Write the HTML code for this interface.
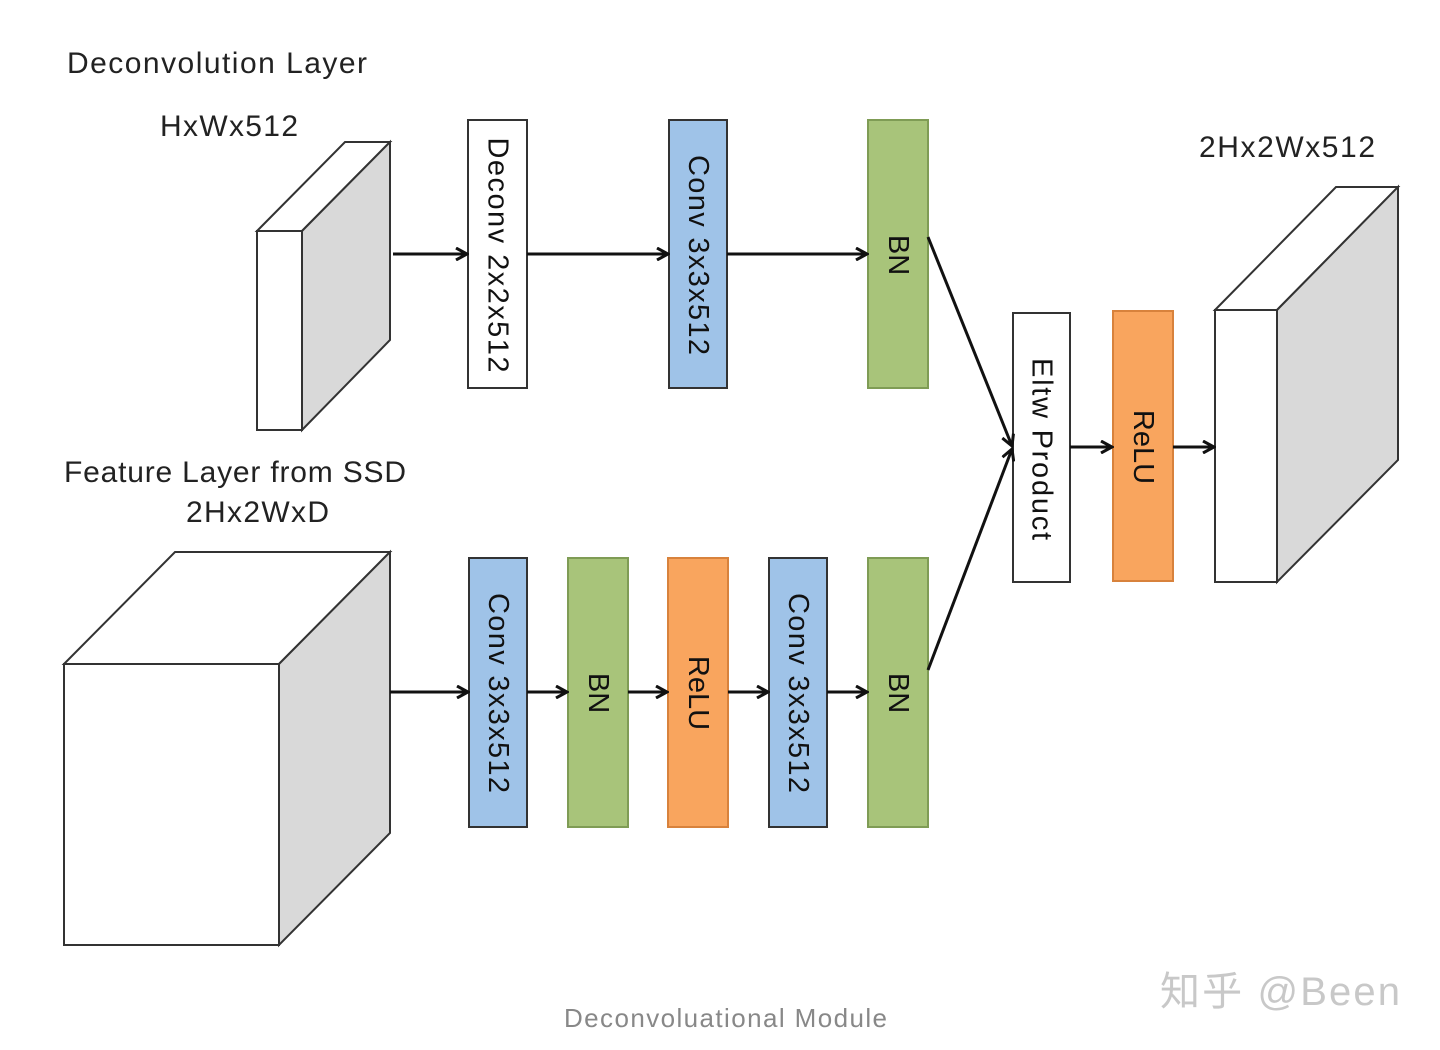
<!DOCTYPE html>
<html><head><meta charset="utf-8"><style>html,body{margin:0;padding:0;background:#fff;}svg{display:block}</style></head>
<body>
<svg width="1440" height="1050" viewBox="0 0 1440 1050" xmlns="http://www.w3.org/2000/svg" font-family="Liberation Sans, sans-serif">
<defs>
<marker id="ah" markerWidth="14" markerHeight="14" refX="12" refY="7" orient="auto" markerUnits="userSpaceOnUse">
<path d="M1,1 L12,7 L1,13" fill="none" stroke="#111" stroke-width="3"/>
</marker>
</defs>
<g fill="#222" font-size="30">
<text x="67" y="73" textLength="300">Deconvolution Layer</text>
<text x="160" y="136" textLength="138">HxWx512</text>
<text x="1199" y="157" textLength="176">2Hx2Wx512</text>
<text x="64" y="482" textLength="342">Feature Layer from SSD</text>
<text x="186" y="522" textLength="143">2Hx2WxD</text>
</g>
<text x="564" y="1027" font-size="26" fill="#888" textLength="323">Deconvoluational Module</text>
<text x="1160" y="1005" font-size="40" fill="#c8c8c8" font-family="Liberation Sans, Noto Sans CJK SC, sans-serif" textLength="240">知乎 @Been</text>

<g stroke="#333" stroke-width="2">
<polygon points="257,231 345,142 390,142 302,231" fill="#fff"/>
<polygon points="302,231 390,142 390,340 302,430" fill="#d9d9d9"/>
<rect x="257" y="231" width="45" height="199" fill="#fff"/>
<polygon points="64,664 175,552 390,552 279,664" fill="#fff"/>
<polygon points="279,664 390,552 390,833 279,945" fill="#d9d9d9"/>
<rect x="64" y="664" width="215" height="281" fill="#fff"/>
<polygon points="1215,310 1336,187 1398,187 1277,310" fill="#fff"/>
<polygon points="1277,310 1398,187 1398,460 1277,582" fill="#d9d9d9"/>
<rect x="1215" y="310" width="62" height="272" fill="#fff"/>
</g>

<g stroke-width="2">
<rect x="468" y="120" width="59" height="268" fill="#fff" stroke="#333"/>
<rect x="669" y="120" width="58" height="268" fill="#9fc3e8" stroke="#333"/>
<rect x="868" y="120" width="60" height="268" fill="#a8c47a" stroke="#7f9c55"/>
<rect x="469" y="558" width="58" height="269" fill="#9fc3e8" stroke="#333"/>
<rect x="568" y="558" width="60" height="269" fill="#a8c47a" stroke="#7f9c55"/>
<rect x="668" y="558" width="60" height="269" fill="#f9a55e" stroke="#d8823c"/>
<rect x="769" y="558" width="58" height="269" fill="#9fc3e8" stroke="#333"/>
<rect x="868" y="558" width="60" height="269" fill="#a8c47a" stroke="#7f9c55"/>
<rect x="1013" y="313" width="57" height="269" fill="#fff" stroke="#333"/>
<rect x="1113" y="311" width="60" height="270" fill="#f9a55e" stroke="#d8823c"/>
</g>

<g font-size="29" fill="#111" text-anchor="middle" dominant-baseline="central">
<text transform="translate(497.5,255) rotate(90)" textLength="235">Deconv 2x2x512</text>
<text transform="translate(698,255) rotate(90)" textLength="200">Conv 3x3x512</text>
<text transform="translate(898,255) rotate(90)">BN</text>
<text transform="translate(498,693) rotate(90)" textLength="200">Conv 3x3x512</text>
<text transform="translate(598,693) rotate(90)">BN</text>
<text transform="translate(698,693) rotate(90)">ReLU</text>
<text transform="translate(798,693) rotate(90)" textLength="200">Conv 3x3x512</text>
<text transform="translate(898,693) rotate(90)">BN</text>
<text transform="translate(1041.5,449) rotate(90)" textLength="182">Eltw Product</text>
<text transform="translate(1143,447) rotate(90)">ReLU</text>
</g>

<g stroke="#111" stroke-width="3" fill="none" marker-end="url(#ah)">
<line x1="393" y1="254" x2="467" y2="254"/>
<line x1="527" y1="254" x2="668" y2="254"/>
<line x1="727" y1="254" x2="867" y2="254"/>
<line x1="390" y1="692" x2="468" y2="692"/>
<line x1="527" y1="692" x2="567" y2="692"/>
<line x1="628" y1="692" x2="667" y2="692"/>
<line x1="728" y1="692" x2="768" y2="692"/>
<line x1="827" y1="692" x2="867" y2="692"/>
<line x1="928" y1="237" x2="1012" y2="446"/>
<line x1="928" y1="670" x2="1012" y2="449"/>
<line x1="1070" y1="447" x2="1112" y2="447"/>
<line x1="1173" y1="447" x2="1214" y2="447"/>
</g>
</svg>
</body></html>
